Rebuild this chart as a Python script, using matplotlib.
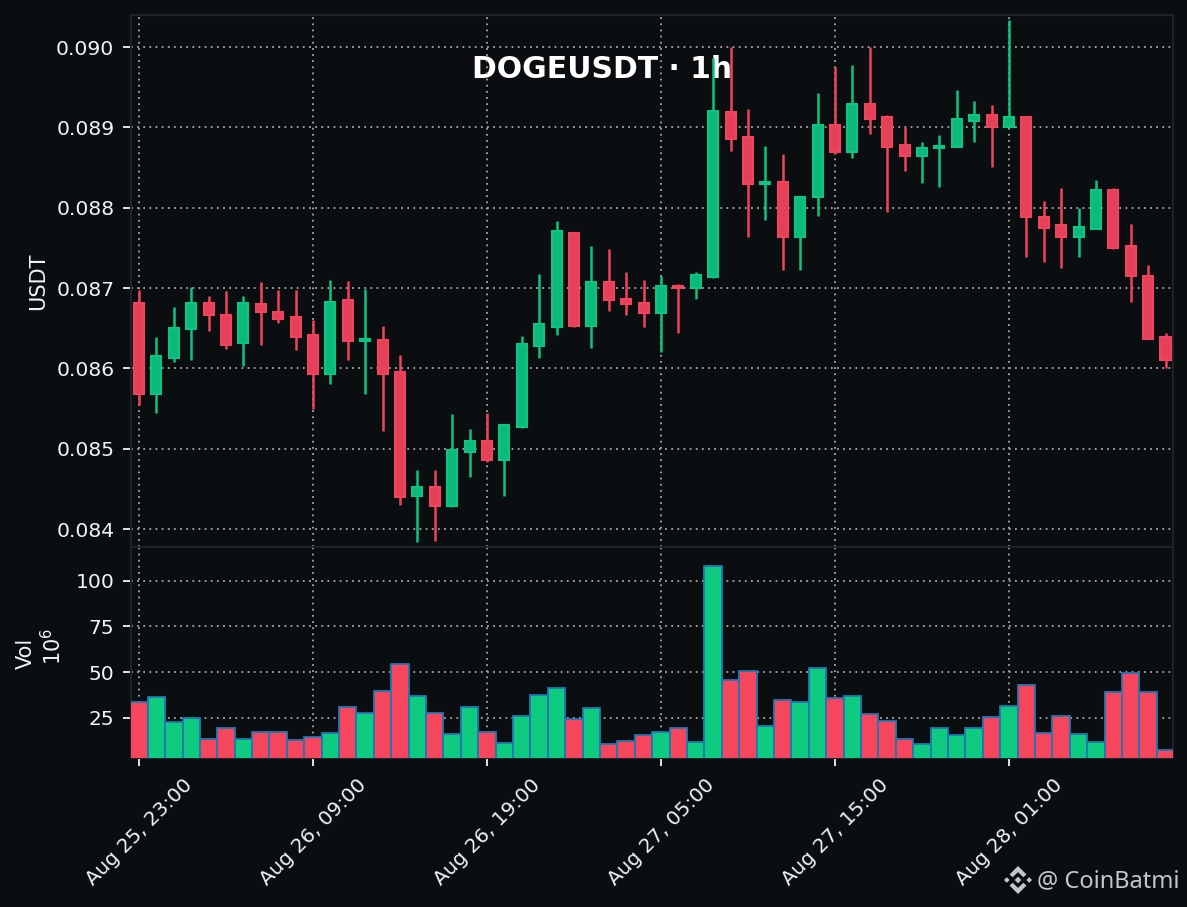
import matplotlib
matplotlib.use("Agg")
import numpy as np
import matplotlib.pyplot as plt
from matplotlib.patches import Polygon

# candle data, 1h DOGEUSDT
opens = [0.08682, 0.08568, 0.08613, 0.08649, 0.08681, 0.08667, 0.08631, 0.08680, 0.08670, 0.08664,
         0.08641, 0.08593, 0.08685, 0.08634, 0.08635, 0.08595, 0.08441, 0.08452, 0.08429, 0.08496,
         0.08510, 0.08486, 0.08527, 0.08628, 0.08652, 0.08769, 0.08653, 0.08707, 0.08687, 0.08682,
         0.08669, 0.08702, 0.08700, 0.08714, 0.08919, 0.08888, 0.08830, 0.08832, 0.08763, 0.08813,
         0.08903, 0.08869, 0.08929, 0.08913, 0.08878, 0.08865, 0.08875, 0.08876, 0.08908, 0.08915,
         0.08901, 0.08913, 0.08789, 0.08778, 0.08763, 0.08774, 0.08822, 0.08753, 0.08715, 0.08639]
highs = [0.08698, 0.08639, 0.08676, 0.08701, 0.08690, 0.08696, 0.08690, 0.08708, 0.08698, 0.08698,
         0.08660, 0.08710, 0.08709, 0.08699, 0.08653, 0.08617, 0.08474, 0.08473, 0.08543, 0.08525,
         0.08544, 0.08529, 0.08640, 0.08717, 0.08783, 0.08769, 0.08752, 0.08749, 0.08720, 0.08710,
         0.08715, 0.08705, 0.08720, 0.08986, 0.09000, 0.08923, 0.08877, 0.08867, 0.08815, 0.08943,
         0.08975, 0.08978, 0.09000, 0.08915, 0.08900, 0.08882, 0.08891, 0.08947, 0.08933, 0.08928,
         0.09034, 0.08913, 0.08808, 0.08825, 0.08800, 0.08835, 0.08825, 0.08780, 0.08729, 0.08644]
lows = [0.08555, 0.08545, 0.08608, 0.08610, 0.08646, 0.08624, 0.08603, 0.08629, 0.08656, 0.08623,
        0.08549, 0.08580, 0.08611, 0.08568, 0.08522, 0.08430, 0.08384, 0.08385, 0.08427, 0.08465,
        0.08484, 0.08441, 0.08526, 0.08613, 0.08641, 0.08652, 0.08626, 0.08672, 0.08666, 0.08652,
        0.08620, 0.08644, 0.08687, 0.08713, 0.08871, 0.08763, 0.08785, 0.08723, 0.08723, 0.08790,
        0.08867, 0.08862, 0.08892, 0.08795, 0.08846, 0.08831, 0.08826, 0.08876, 0.08882, 0.08851,
        0.08901, 0.08739, 0.08733, 0.08725, 0.08739, 0.08774, 0.08749, 0.08683, 0.08636, 0.08600]
closes = [0.08568, 0.08616, 0.08650, 0.08682, 0.08666, 0.08629, 0.08681, 0.08670, 0.08662, 0.08639,
          0.08593, 0.08683, 0.08634, 0.08636, 0.08593, 0.08440, 0.08452, 0.08429, 0.08498, 0.08510,
          0.08486, 0.08529, 0.08630, 0.08655, 0.08771, 0.08653, 0.08707, 0.08685, 0.08680, 0.08669,
          0.08703, 0.08700, 0.08716, 0.08920, 0.08886, 0.08830, 0.08832, 0.08763, 0.08814, 0.08903,
          0.08870, 0.08929, 0.08911, 0.08876, 0.08865, 0.08875, 0.08877, 0.08911, 0.08915, 0.08901,
          0.08913, 0.08788, 0.08775, 0.08763, 0.08776, 0.08822, 0.08750, 0.08715, 0.08637, 0.08610]
volumes = [33.8, 36.2, 22.5, 25.0, 13.5, 19.5, 13.5, 17.0, 17.0, 13.0,
           14.3, 16.5, 30.7, 27.4, 39.4, 54.2, 36.7, 27.4, 16.0, 30.7,
           17.0, 11.0, 25.7, 37.2, 41.1, 24.1, 30.1, 10.4, 12.1, 15.3,
           17.0, 19.2, 11.5, 107.8, 45.5, 50.4, 20.3, 34.5, 33.4, 52.0,
           35.6, 36.7, 26.8, 23.0, 13.5, 10.4, 19.2, 15.3, 19.2, 25.2,
           31.2, 42.7, 16.4, 25.7, 15.9, 11.5, 38.9, 49.3, 38.9, 7.2]
tick_pos = [0, 10, 20, 30, 40, 50]
tick_labels = ["Aug 25, 23:00", "Aug 26, 09:00", "Aug 26, 19:00",
               "Aug 27, 05:00", "Aug 27, 15:00", "Aug 28, 01:00"]
price_ticks = [0.084, 0.085, 0.086, 0.087, 0.088, 0.089, 0.090]
vol_ticks = [25, 50, 75, 100]

W, H = 1187, 907
BG = "#0b0e11"
TXT = "#f2f3f4"
GRID = "#a8a8a8"
SPINE = "#1e2329"

fig = plt.figure(figsize=(W / 100, H / 100), dpi=100, facecolor=BG)

def axes_px(left, top, right, bottom):
    return fig.add_axes([left / W, 1 - bottom / H, (right - left) / W, (bottom - top) / H], facecolor=BG)

ax = axes_px(131, 15, 1172.5, 546.7)
vax = axes_px(131, 546.7, 1172.5, 758.3)

x = np.arange(len(opens))
o = np.array(opens)
h = np.array(highs)
l = np.array(lows)
c = np.array(closes)
up = c >= o

candle_cols = ["#0bb97a" if u else "#e4405a" for u in up]
edge_cols = ["#0ec480" if u else "#f0445c" for u in up]
vol_cols = ["#0ecb81" if u else "#f6465d" for u in up]

# price panel
ax.vlines(x, l, h, colors=edge_cols, linewidth=1.8, zorder=3)
ax.bar(x, np.abs(c - o), bottom=np.minimum(o, c), width=0.58, color=candle_cols,
       edgecolor=edge_cols, linewidth=1.5, zorder=4)
ax.set_xlim(-0.46, 59.4)
ax.set_ylim(0.08378, 0.0904)
ax.set_yticks(price_ticks)
ax.set_yticklabels(["%.3f" % p for p in price_ticks])
ax.set_ylabel("USDT", color=TXT, fontsize=15, labelpad=6)

# volume panel
vax.bar(x, volumes, width=1.0, color=vol_cols, edgecolor="#1f77b4", linewidth=1.3, zorder=3)
vax.set_xlim(-0.46, 59.4)
vax.set_ylim(2.78, 118.6)
vax.set_yticks(vol_ticks)
vax.set_xticks(tick_pos)
vax.set_xticklabels(tick_labels, rotation=45, ha="center")
ax.set_xticks(tick_pos)
ax.tick_params(axis="x", bottom=False, labelbottom=False)

for a in (ax, vax):
    a.set_axisbelow(True)
    a.grid(True, color=GRID, linewidth=1.3, linestyle=(0, (1.0, 2.4)))
    a.tick_params(axis="y", colors=TXT, labelsize=14.6, length=6, width=1.3, pad=6)
    for s in a.spines.values():
        s.set_color(SPINE)
        s.set_linewidth(1.5)
vax.tick_params(axis="x", colors=TXT, labelsize=14.4, length=6, width=1.3, pad=6)

fig.text(26 / W, 1 - 653 / H, "Vol", color=TXT, fontsize=15, rotation=90, ha="center", va="center")
fig.text(53 / W, 1 - 646 / H, "$\\mathdefault{10^{6}}$", color=TXT, fontsize=15, rotation=90,
         ha="center", va="center")

# title sits under the candles
fig.text(602 / W, 1 - 69.5 / H, "DOGEUSDT \u00b7 1h", color="white", fontsize=21.5, fontweight="bold",
         ha="center", va="center", zorder=-1)
ax.set_zorder(1)
vax.set_zorder(1)
ax.patch.set_alpha(0)
fig.patches.append(plt.Rectangle((131 / W, 1 - 546.7 / H), 1041.5 / W, 531.7 / H,
                                 transform=fig.transFigure, facecolor=BG, edgecolor="none", zorder=-2))

# watermark
wm_col = "#c4c6c8"
fig.text(1037 / W, 1 - 881 / H, "@ CoinBatmi", color=wm_col, fontsize=17, family="Noto Sans",
         ha="left", va="center")
logo = fig.add_axes([1004 / W, 1 - 894 / H, 28 / W, 28 / H])
logo.set_axis_off()
logo.set_xlim(-1, 1)
logo.set_ylim(-1, 1)
shapes = [
    [(0, 0.24), (0.24, 0), (0, -0.24), (-0.24, 0)],
    [(-0.8, 0.2), (-0.6, 0.0), (-0.8, -0.2), (-1.0, 0.0)],
    [(0.8, 0.2), (1.0, 0.0), (0.8, -0.2), (0.6, 0.0)],
    [(0, 1.0), (0.6, 0.4), (0.38, 0.2), (0, 0.56), (-0.38, 0.2), (-0.6, 0.4)],
    [(0, -1.0), (0.6, -0.4), (0.38, -0.2), (0, -0.56), (-0.38, -0.2), (-0.6, -0.4)],
]
for pts in shapes:
    logo.add_patch(Polygon(pts, closed=True, facecolor=wm_col, edgecolor="none"))

fig.savefig("out.png", dpi=100, facecolor=BG)
